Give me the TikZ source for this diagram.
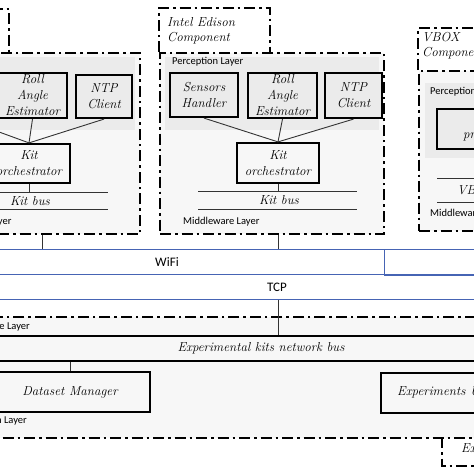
\documentclass[tikz,border=0pt]{standalone}
\usepackage{fontspec}
\newfontfamily\carlito{Carlito}
\definecolor{netblue}{RGB}{70,100,180}
\begin{document}
\begin{tikzpicture}[x=1pt,y=-1pt,
  dd/.style={line width=2.2pt, dash pattern=on 11pt off 4pt on 2.5pt off 4pt},
  comp/.style={draw, dd, fill=black!3, inner sep=0pt},
  kbox/.style={draw, line width=2.2pt, fill=black!8, inner sep=0pt, align=center, font=\itshape\fontsize{13}{16}\selectfont},
  obox/.style={kbox, fill=black!3},
  lay/.style={font=\carlito\fontsize{10.5}{12}\selectfont, inner sep=0pt},
  itx/.style={font=\itshape\fontsize{13}{15}\selectfont, inner sep=0pt},
  conn/.style={draw=black!80, line width=0.9pt},
  net/.style={draw=netblue, line width=0.9pt, inner sep=0pt, anchor=north west},
  nettext/.style={font=\carlito\fontsize{13}{15}\selectfont, inner sep=0pt}
]
\useasboundingbox (0,0) rectangle (474,474);
\clip (0,0) rectangle (474,474);

% ---------- left component ----------
\draw[dd] (-30,9) -- (9,9) -- (9,52);
\node[comp, anchor=north west, minimum width=228pt, minimum height=181pt] (lcomp) at (-89,52) {};
\fill[black!8] (-84,57) rectangle (135,130);
\node[lay, anchor=west] at (-77,62) {Perception Layer};
\node[kbox, minimum width=69pt, minimum height=45pt] (lroll) at (32.5,95.5) {Roll\\Angle\\Estimator};
\node[kbox, minimum width=56pt, minimum height=43pt] (lntp) at (104,96.5) {NTP\\Client};
\coordinate (lsens) at (-42,117);
\node[obox, minimum width=82pt, minimum height=39pt] (lorch) at (29,163.5) {Kit\\orchestrator};
\coordinate (lb1) at (-51,192); \coordinate (lb2) at (108,192);
\coordinate (lb3) at (-51,209); \coordinate (lb4) at (108,209);
\draw[conn] (lb1) -- (lb2);
\draw[conn] (lb3) -- (lb4);
\node[itx] (lbus) at (30,201) {Kit bus};
\draw[conn] (lsens) -- (lorch.north);
\draw[conn] (lroll.south) -- (lorch.north);
\draw[conn] (lntp.south) -- (lorch.north);
\draw[conn] (lorch.south) -- (lorch.south |- lb1);
\node[lay, anchor=west] at (-65,222) {Middleware Layer};

% ---------- Intel Edison component ----------
\draw[dd] (159,52) -- (159,8) -- (270,8) -- (270,52);
\node[itx, anchor=north west, align=left] (edlab) at (167,17) {Intel Edison\\Component};
\node[comp, anchor=north west, minimum width=224pt, minimum height=181pt] (mcomp) at (159,52) {};
\fill[black!8] (165,57) rectangle (379,130);
\node[lay, anchor=west] at (172,62) {Perception Layer};
\node[kbox, minimum width=68pt, minimum height=44pt] (msens) at (204,95) {Sensors\\Handler};
\node[kbox, minimum width=69pt, minimum height=45pt] (mroll) at (282.5,95.5) {Roll\\Angle\\Estimator};
\node[kbox, minimum width=57pt, minimum height=45pt] (mntp) at (353.5,95.5) {NTP\\Client};
\node[obox, minimum width=82pt, minimum height=40pt] (morch) at (278,163) {Kit\\orchestrator};
\coordinate (mb1) at (198,191); \coordinate (mb2) at (357,191);
\coordinate (mb3) at (198,209); \coordinate (mb4) at (357,209);
\draw[conn] (mb1) -- (mb2);
\draw[conn] (mb3) -- (mb4);
\node[itx] (mbus) at (279,200) {Kit bus};
\draw[conn] (msens.south) -- (morch.north);
\draw[conn] (mroll.south) -- (morch.north);
\draw[conn] (mntp.south) -- (morch.north);
\draw[conn] (morch.south) -- (morch.south |- mb1);
\node[lay, anchor=west] at (183,222) {Middleware Layer};

% ---------- VBOX component ----------
\draw[dd] (418,70) -- (418,28) -- (490,28);
\node[itx, anchor=north west, align=left] (vlab) at (422,32) {VBOX\\Component};
\node[comp, anchor=north west, minimum width=80pt, minimum height=160pt] (vcomp) at (418,70) {};
\fill[black!8] (425,83) rectangle (490,158);
\node[lay, anchor=west] at (430,92) {Perception Layer};
\node[kbox, anchor=north west, minimum width=90pt, minimum height=40pt] (vproc) at (436,108) {};
\node[itx, anchor=west] at (463,137) {process};
\coordinate (vb1) at (437,178); \coordinate (vb2) at (490,178);
\coordinate (vb3) at (437,202); \coordinate (vb4) at (490,202);
\draw[conn] (vb1) -- (vb2);
\draw[conn] (vb3) -- (vb4);
\node[itx, anchor=west] (vbus) at (457,190) {VBOX bus};
\node[lay, anchor=west] at (430,214) {Middleware Layer};

% ---------- network ----------
\node[net, minimum width=394pt, minimum height=25pt] (wifi) at (-10,249) {};
\node[net, minimum width=100pt, minimum height=25pt] (wifi2) at (384,249) {};
\draw[netblue, line width=1.8pt] (wifi2.south west) -- (wifi2.south east);
\node[nettext] at (167,262) {WiFi};
\node[net, minimum width=500pt, minimum height=25pt] (tcp) at (-10,274) {};
\node[nettext] at (277,287) {TCP};
\coordinate (lx) at (42,0);
\draw[conn] (lcomp.south -| lx) -- (wifi.north -| lx);
\draw[conn] (mcomp.south -| morch.south) -- (wifi.north -| morch.south);

% ---------- server ----------
\node[comp, anchor=north west, minimum width=520pt, minimum height=121pt] (srv) at (-20,316) {};
\node[lay, anchor=east] at (30,327) {Middleware Layer};
\node[draw, line width=2pt, fill=black!3, anchor=north west, minimum width=510pt, minimum height=25pt, inner sep=0pt] (bus) at (-10,335) {};
\node[itx] at (261,348) {Experimental kits network bus};
\draw[conn] (tcp.south -| morch.south) -- (bus.north -| morch.south);
\node[obox, minimum width=160pt, minimum height=40pt] (dm) at (70,392) {Dataset Manager};
\draw[conn] (bus.south -| dm.north) -- (dm.north);
\node[obox, anchor=north west, minimum width=140pt, minimum height=40pt] (exp) at (380,372) {};
\node[itx, anchor=west] at (397,392) {Experiments UI};
\node[lay, anchor=east] at (27,421) {Application Layer};
\draw[dd] (442,437) -- (442,466) -- (490,466);
\node[itx, anchor=west] at (461,449) {Experimental};
\end{tikzpicture}
\end{document}
